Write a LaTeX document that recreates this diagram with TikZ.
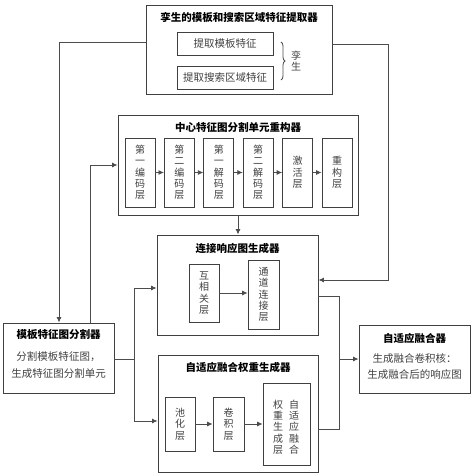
\documentclass[tikz,border=0pt]{standalone}
\usepackage{fontspec}
\setmainfont{Noto Sans CJK SC}
\usetikzlibrary{arrows.meta,decorations.pathreplacing,calc}
\tikzset{
 frame/.style={draw=black!75,line width=0.9pt,inner sep=0pt},
 layer/.style={draw=black!75,line width=0.8pt,inner sep=0pt,minimum width=30pt,align=center,font=\fontsize{10}{11.3}\selectfont,text=black!75},
 ttl/.style={font=\bfseries\fontsize{10.5}{12}\selectfont,inner sep=0pt},
 body/.style={font=\fontsize{10.5}{16}\selectfont,text=black!75,align=center,inner sep=0pt},
 vtext/.style={font=\fontsize{10}{11.3}\selectfont,text=black!75,align=center,inner sep=0pt},
 cline/.style={draw=black!70,line width=0.8pt},
 arr/.style={cline,-{Latex[length=5.5pt,width=5pt]}}
}
\begin{document}
\begin{tikzpicture}[x=1pt,y=-1pt]
\useasboundingbox (0,0) rectangle (474,476);
% top extractor
\node[frame,minimum width=186pt,minimum height=89pt] (top) at (239,49.5) {};
\node[ttl] (toptitle) at (239,17) {孪生的模板和搜索区域特征提取器};
\node[frame,minimum width=96pt,minimum height=23pt,body] (exA) at (225,43.5) {提取模板特征};
\node[frame,minimum width=96pt,minimum height=23pt,body] (exB) at (225,77.5) {提取搜索区域特征};
\coordinate (brT) at (281,42);
\coordinate (brB) at (281,80);
\draw[cline,decorate,decoration={brace,amplitude=4pt}] (brT) -- (brB);
\node[vtext] (twin) at (296,61) {孪\\生};
% center reconstructor
\node[frame,minimum width=240pt,minimum height=100pt] (center) at (238,165) {};
\node[ttl] (centertitle) at (238,128) {中心特征图分割单元重构器};
\node[layer,minimum height=69pt] (L1) at (140,172.5) {第\\一\\编\\码\\层};
\node[layer,minimum height=69pt] (L2) at (179.4,172.5) {第\\二\\编\\码\\层};
\node[layer,minimum height=69pt] (L3) at (218.8,172.5) {第\\一\\解\\码\\层};
\node[layer,minimum height=69pt] (L4) at (258.2,172.5) {第\\二\\解\\码\\层};
\node[layer,minimum height=69pt] (L5) at (297.6,172.5) {激\\活\\层};
\node[layer,minimum height=69pt] (L6) at (337,172.5) {重\\构\\层};
\foreach \a/\b in {L1/L2,L2/L3,L3/L4,L4/L5,L5/L6} \draw[arr] (\a) -- (\b);
% connection response map generator
\node[frame,minimum width=161pt,minimum height=100pt] (conn) at (237.5,285) {};
\node[ttl] (conntitle) at (237.5,248) {连接响应图生成器};
\node[layer,minimum height=58pt] (xcorr) at (204,293) {互\\相\\关\\层};
\node[layer,minimum height=69pt,minimum width=31pt] (chan) at (263.5,294.5) {通\\道\\连\\接\\层};
\draw[arr] (xcorr.east) -- (xcorr.east -| chan.west);
% template splitter
\node[frame,minimum width=111pt,minimum height=70pt] (split) at (58.5,358) {};
\node[ttl] (splittitle) at (58.5,335) {模板特征图分割器};
\node[body,font=\fontsize{10.5}{17}\selectfont] (splittext) at (58.5,365.5) {分割模板特征图，\\生成特征图分割单元};
% weight generator
\node[frame,minimum width=160pt,minimum height=117pt] (weight) at (238,413.5) {};
\node[ttl] (weighttitle) at (238,367) {自适应融合权重生成器};
\node[layer,minimum height=54pt] (pool) at (180,424) {池\\化\\层};
\node[layer,minimum height=54pt,minimum width=31pt] (convl) at (228.5,424) {卷\\积\\层};
\node[layer,minimum height=82pt,minimum width=47pt] (wgen) at (286.5,424) {};
\node[vtext] (wgenL) at (278,427) {权\\重\\生\\成\\层};
\node[vtext] (wgenR) at (294,427) {自\\适\\应\\融\\合};
\draw[arr] (pool) -- (convl);
\draw[arr] (convl) -- (wgen);
% fusion
\node[frame,minimum width=111pt,minimum height=68pt] (fuse) at (414.5,359) {};
\node[ttl] (fusetitle) at (414.5,338) {自适应融合器};
\node[body] (fusetext) at (414.5,367) {生成融合卷积核：\\生成融合后的响应图};
% connectors
\draw[arr] (top.west |- 0,42) -| (split.north -| 59,0);
\draw[arr] (split.north -| 90,0) |- (center.west);
\draw[arr] (center.south) -- (center.south |- conn.north);
\coordinate (rtA) at (388,44);
\coordinate (rtB) at (388,280);
\draw[arr] (top.east |- rtA) -- (rtA) -- (rtB) -- (conn.east |- rtB);
\coordinate (sp) at (134,359);
\draw[cline] (split.east |- sp) -- (sp);
\draw[arr] (sp) |- (conn.west |- 0,288);
\draw[arr] (sp) |- (weight.west |- 0,421);
\coordinate (jn) at (339,359);
\draw[cline] (conn.east |- 0,296) -| (jn);
\draw[cline] (weight.east |- 0,429) -| (jn);
\draw[arr] (jn) -- (fuse.west |- jn);
\end{tikzpicture}
\end{document}
